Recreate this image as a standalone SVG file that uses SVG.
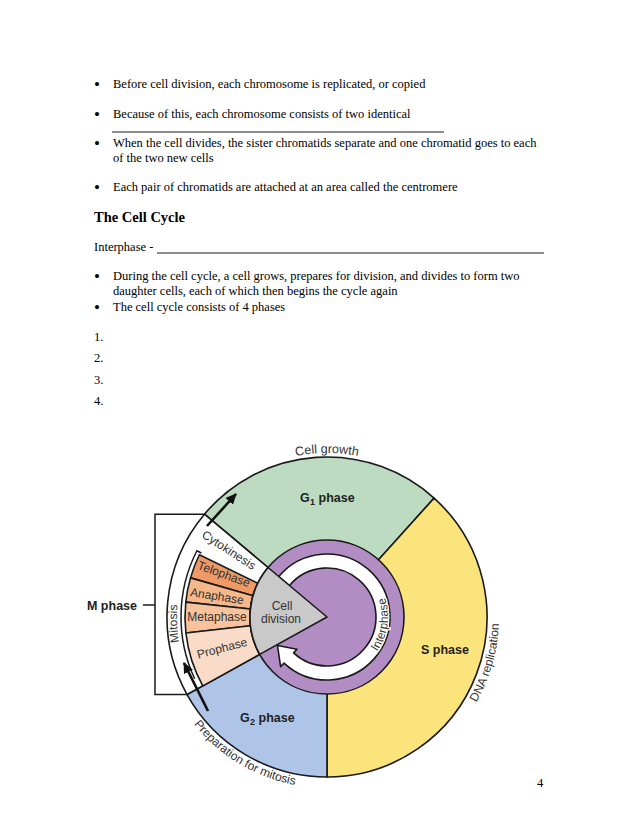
<svg xmlns="http://www.w3.org/2000/svg" width="638" height="826" viewBox="0 0 638 826">
<style>
.doc{font-family:"Liberation Serif","Times New Roman",serif;font-size:12.5px;fill:#000}
.bul{font-family:"Liberation Serif","Times New Roman",serif;font-size:17px;fill:#000}
.sec{stroke:#1a1a1a;stroke-width:1.6;stroke-linejoin:round}
.ln{stroke:#1a1a1a;stroke-width:1.5;fill:none}
.lbl{font-family:"Liberation Sans",Arial,sans-serif;font-size:12px;fill:#333}
.ph{font-family:"Liberation Sans",Arial,sans-serif;font-weight:bold;font-size:12.5px;fill:#222}
.sub{font-family:"Liberation Sans",Arial,sans-serif;font-weight:bold;font-size:9px;fill:#222}
.arr{stroke:#111;stroke-width:2.6;fill:none}
</style>
<defs>
<marker id="ah" markerWidth="11" markerHeight="10" refX="10" refY="5" orient="auto" markerUnits="userSpaceOnUse"><path d="M0,0 L11,5 L0,10 z" fill="#111"/></marker>
<path id="pGrowth" d="M 270.91 462.89 A 164 164 0 0 1 383.09 462.89"/>
<path id="pDNA" d="M 467.90 715.66 A 172 172 0 0 0 498.76 608.00"/>
<path id="pPrep" d="M 186.92 715.09 A 171 171 0 0 0 306.16 786.72"/>
<path id="pInter" d="M 375.07 654.56 A 61 61 0 0 0 383.56 594.15"/>
<path id="pMit" d="M 186.05 668.30 A 149 149 0 0 1 182.11 578.18"/>
</defs>
<rect width="638" height="826" fill="#fff"/>

<g id="notes" class="doc">
<text class="bul" x="94" y="89.5">•</text><text x="113" y="88">Before cell division, each chromosome is replicated, or copied</text>
<text class="bul" x="94" y="119.5">•</text><text x="113" y="118">Because of this, each chromosome consists of two identical</text>
<line x1="112" y1="132" x2="444" y2="132" stroke="#000" stroke-width="0.9"/>
<text class="bul" x="94" y="148.5">•</text><text x="113" y="147">When the cell divides, the sister chromatids separate and one chromatid goes to each</text>
<text x="113" y="162">of the two new cells</text>
<text class="bul" x="94" y="192.5">•</text><text x="113" y="191">Each pair of chromatids are attached at an area called the centromere</text>
<text x="94" y="222" font-weight="bold" font-size="14.5">The Cell Cycle</text>
<text x="94" y="251">Interphase - </text>
<line x1="157" y1="253" x2="544" y2="253" stroke="#000" stroke-width="0.9"/>
<text class="bul" x="94" y="281.5">•</text><text x="113" y="280">During the cell cycle, a cell grows, prepares for division, and divides to form two</text>
<text x="113" y="295">daughter cells, each of which then begins the cycle again</text>
<text class="bul" x="94" y="312.5">•</text><text x="113" y="311">The cell cycle consists of 4 phases</text>
<text x="94" y="341">1.</text>
<text x="94" y="362">2.</text>
<text x="94" y="384">3.</text>
<text x="94" y="405">4.</text>
<text x="537" y="787">4</text>
</g>

<g id="g1-phase">
<path class="sec" fill="#bddbc0" d="M 327 617 L 204.44 514.15 A 160 160 0 0 1 434.06 498.10 Z"/>
<text class="ph" x="300" y="502">G</text><text class="sub" x="310" y="505">1</text><text class="ph" x="318.5" y="502">phase</text>
</g>
<g id="s-phase">
<path class="sec" fill="#fbe47c" d="M 327 617 L 434.06 498.10 A 160 160 0 0 1 327 777 Z"/>
<text class="ph" x="445" y="654" text-anchor="middle">S phase</text>
</g>
<g id="g2-phase">
<path class="sec" fill="#afc5e8" d="M 327 617 L 327 777 A 160 160 0 0 1 187.06 694.57 Z"/>
<text class="ph" x="240" y="722">G</text><text class="sub" x="250" y="725">2</text><text class="ph" x="258.5" y="722">phase</text>
</g>
<g id="m-phase">
<path class="sec" fill="#fff" d="M 327 617 L 187.06 694.57 A 160 160 0 0 1 204.44 514.15 Z"/>
</g>

<g id="cytokinesis">
<text class="lbl" x="229" y="550" text-anchor="middle" dy="0.35em" transform="rotate(33 229 550)">Cytokinesis</text>
</g>
<g id="telophase">
<path class="sec" fill="#ef9a66" d="M 252.98 595.78 L 190.50 577.86 A 142 142 0 0 1 199.37 554.75 L 257.79 583.24 A 77 77 0 0 0 252.98 595.78 Z"/>
<text class="lbl" x="224" y="574" text-anchor="middle" dy="0.35em" transform="rotate(20 224 574)">Telophase</text>
</g>
<g id="anaphase">
<path class="sec" fill="#f6b88b" d="M 250.42 608.95 L 185.78 602.16 A 142 142 0 0 1 190.50 577.86 L 252.98 595.78 A 77 77 0 0 0 250.42 608.95 Z"/>
<text class="lbl" x="217" y="596" text-anchor="middle" dy="0.35em" transform="rotate(9 217 596)">Anaphase</text>
</g>
<g id="metaphase">
<path class="sec" fill="#f8c39c" d="M 250.49 625.72 L 185.91 633.07 A 142 142 0 0 1 185.78 602.16 L 250.42 608.95 A 77 77 0 0 0 250.49 625.72 Z"/>
<text class="lbl" x="217" y="617" text-anchor="middle" dy="0.35em">Metaphase</text>
</g>
<g id="prophase">
<path class="sec" fill="#f9dbc7" d="M 259.66 654.33 L 202.81 685.84 A 142 142 0 0 1 185.91 633.07 L 250.49 625.72 A 77 77 0 0 0 259.66 654.33 Z"/>
<text class="lbl" x="222" y="648" text-anchor="middle" dy="0.35em" transform="rotate(-15 222 648)">Prophase</text>
</g>
<g id="mitosis">
<text class="lbl" font-size="11.5"><textPath href="#pMit" startOffset="50%" text-anchor="middle">Mitosis</textPath></text>
</g>

<g id="interphase">
<circle class="sec" cx="327" cy="617" r="77" fill="#b28dc3"/>
<path class="sec" fill="#fff" d="M 278.74 576.50 A 63 63 0 1 1 284.03 663.08 L 280.62 666.74 L 277.5 645.5 L 296.99 649.18 L 293.58 652.84 A 49 49 0 1 0 289.47 585.50 Z"/>
<text class="lbl" font-size="11.5" fill="#222" stroke="#fff" stroke-width="2.5" paint-order="stroke" stroke-linejoin="round"><textPath href="#pInter" startOffset="50%" text-anchor="middle">Interphase</textPath></text>
</g>
<g id="cell-division">
<path class="sec" fill="#c9c9c9" d="M 327 617 L 259.66 654.33 A 77 77 0 0 1 268.02 567.50 Z"/>
<text class="lbl" x="282" y="610" text-anchor="middle">Cell</text>
<text class="lbl" x="281" y="623" text-anchor="middle">division</text>
</g>

<g id="outer-labels" class="lbl">
<text font-size="12.5"><textPath href="#pGrowth" startOffset="50%" text-anchor="middle">Cell growth</textPath></text>
<text><textPath href="#pDNA" startOffset="50%" text-anchor="middle">DNA replication</textPath></text>
<text><textPath href="#pPrep" startOffset="50%" text-anchor="middle">Preparation for mitosis</textPath></text>
</g>

<g id="m-phase-label">
<text class="ph" x="137" y="610" text-anchor="end">M phase</text>
</g>

<g id="connectors">
<path class="ln" d="M 204.44 514.15 L 155 514.15 L 155 694.57 L 187.06 694.57"/>
<line class="ln" x1="143" y1="605" x2="155" y2="605"/>
<path class="ln" stroke-width="1.2" d="M 201.37 552.99 L 196.91 550.72 A 146 146 0 0 0 194.68 678.70"/>
<line class="arr" x1="208" y1="711" x2="184" y2="663" marker-end="url(#ah)"/>
<line class="arr" x1="207" y1="526" x2="236" y2="494" marker-end="url(#ah)"/>
</g>
</svg>
